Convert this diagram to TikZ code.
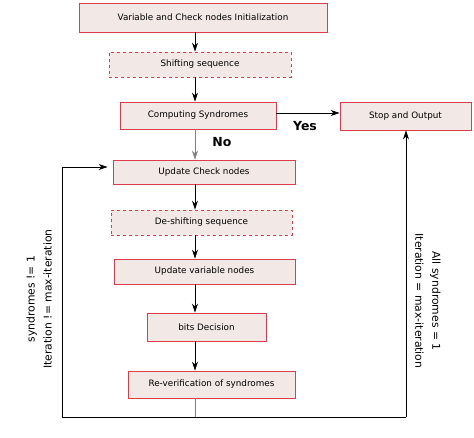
\documentclass[tikz,border=0pt]{standalone}
\usepackage{fontspec}
\setmainfont{DejaVu Sans}
\usetikzlibrary{arrows.meta,positioning}
\definecolor{boxfill}{RGB}{242,232,230}
\definecolor{boxline}{RGB}{222,60,72}

\begin{document}
\begin{tikzpicture}[
      x=1pt,y=-1pt,
      box/.style={rectangle,draw=boxline,fill=boxfill,line width=0.9pt,inner sep=0pt,font=\fontsize{8.8}{10}\selectfont},
      dashbox/.style={box,dashed,line width=0.7pt},
      yesno/.style={font=\bfseries\fontsize{12.5}{14}\selectfont},
      >={Stealth[length=9pt,width=6pt]},thick
    ]
      \useasboundingbox (0,0) rectangle (474,437);
      \coordinate (spine) at (195,0);
      \node[box,minimum width=248pt,minimum height=29pt] (init) at (203,17.5) {Variable and Check nodes Initialization};
      \node[dashbox,minimum width=182pt,minimum height=25pt] (shift) at (200,64.5) {Shifting sequence};
      \node[box,minimum width=156pt,minimum height=27pt] (synd) at (198,115.5) {Computing Syndromes};
      \node[box,minimum width=131pt,minimum height=28pt] (stop) at (405.5,116) {Stop and Output};
      \node[box,minimum width=182pt,minimum height=24pt] (check) at (204,172) {Update Check nodes};
      \node[dashbox,minimum width=181pt,minimum height=25pt] (deshift) at (201.5,222.5) {De-shifting sequence};
      \node[box,minimum width=181pt,minimum height=25pt] (var) at (204.5,271.5) {Update variable nodes};
      \node[box,minimum width=119pt,minimum height=28pt] (bits) at (206.5,327) {bits Decision};
      \node[box,minimum width=167pt,minimum height=27pt] (rever) at (211.5,384.5) {Re-verification of syndromes};
      \coordinate (lb) at (62,417);
      \coordinate (rb) at (406,417);
      % main chain
      \draw[->] (init.south -| spine) -- (shift.north -| spine);
      \draw[->] (shift.south -| spine) -- (synd.north -| spine);
      \draw[->,draw=gray,thin] (synd.south -| spine) -- (check.north -| spine);
      \node[yesno] (no) at (222,142) {No};
      \draw[->] (synd.east |- 0,113) -- (stop.west |- 0,113);
      \node[yesno] (yes) at (305,126) {Yes};
      \draw[->] (check.south -| spine) -- (deshift.north -| spine);
      \draw[->] (deshift.south -| spine) -- (var.north -| spine);
      \draw[->] (var.south -| spine) -- (bits.north -| spine);
      \draw[->] (bits.south -| spine) -- (rever.north -| spine);
      % loop back
      \draw[gray,thin] (rever.south -| spine) -- (spine |- lb);
      \draw (lb) -- (rb);
      \draw[->] (rb) -- (rb |- stop.south);
      \draw[->,shorten >=5pt] (lb) |- ([yshift=5pt]check.west);
      \node[rotate=90,align=center,font=\fontsize{10.8}{17}\selectfont] (again) at (39,299)
            {syndromes != 1\\Iteration != max-iteration};
      \node[rotate=-90,align=center,font=\fontsize{10.8}{17}\selectfont] (done) at (428,301)
            {All syndromes = 1\\Iteration = max-iteration};
    \end{tikzpicture}
\end{document}
